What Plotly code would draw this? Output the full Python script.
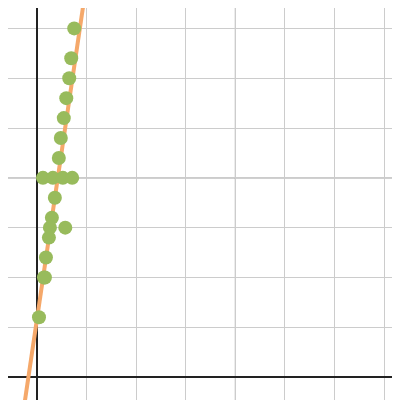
import numpy as np
import plotly.graph_objects as go

# Scatter points
xs = [0.75, 0.69, 0.65, 0.59, 0.54, 0.48, 0.44, 0.12, 0.32, 0.52, 0.71,
      0.36, 0.30, 0.26, 0.24, 0.57, 0.18, 0.14, 0.16, 0.04]
ys = [7.0, 6.4, 6.0, 5.6, 5.2, 4.8, 4.4, 4.0, 4.0, 4.0, 4.0,
      3.6, 3.2, 3.0, 2.8, 3.0, 2.4, 2.0, 2.0, 1.2]

# Fitted line
slope = 6.75
intercept = 1.17
line_x = np.array([-0.8, 1.1])
line_y = slope * line_x + intercept

fig = go.Figure()
fig.add_trace(go.Scatter(x=line_x, y=line_y, mode="lines",
                         line=dict(color="#f5a86a", width=4), hoverinfo="skip"))
fig.add_trace(go.Scatter(x=xs, y=ys, mode="markers",
                         marker=dict(color="#98bb5c", size=14)))

# darker major grid lines
fig.add_shape(type="line", x0=4, x1=4, y0=0, y1=1, yref="paper",
              line=dict(color="#777777", width=1), layer="below")
fig.add_shape(type="line", y0=4, y1=4, x0=0, x1=1, xref="paper",
              line=dict(color="#777777", width=1), layer="below")

axis = dict(dtick=1, showgrid=True, gridcolor="#cccccc", gridwidth=1,
            zeroline=True, zerolinecolor="#222222", zerolinewidth=1.5,
            showticklabels=False, ticks="", fixedrange=True)
# page body has an 8px margin, so the figure is 392px and ranges start there
fig.update_layout(
    width=392, height=392,
    margin=dict(l=0, r=0, t=0, b=0),
    plot_bgcolor="white", paper_bgcolor="white",
    showlegend=False,
    xaxis=dict(range=[-0.585, 7.32], **axis),
    yaxis=dict(range=[-0.46, 7.41], **axis),
)

fig.write_html("out.html", config={"displayModeBar": False})
